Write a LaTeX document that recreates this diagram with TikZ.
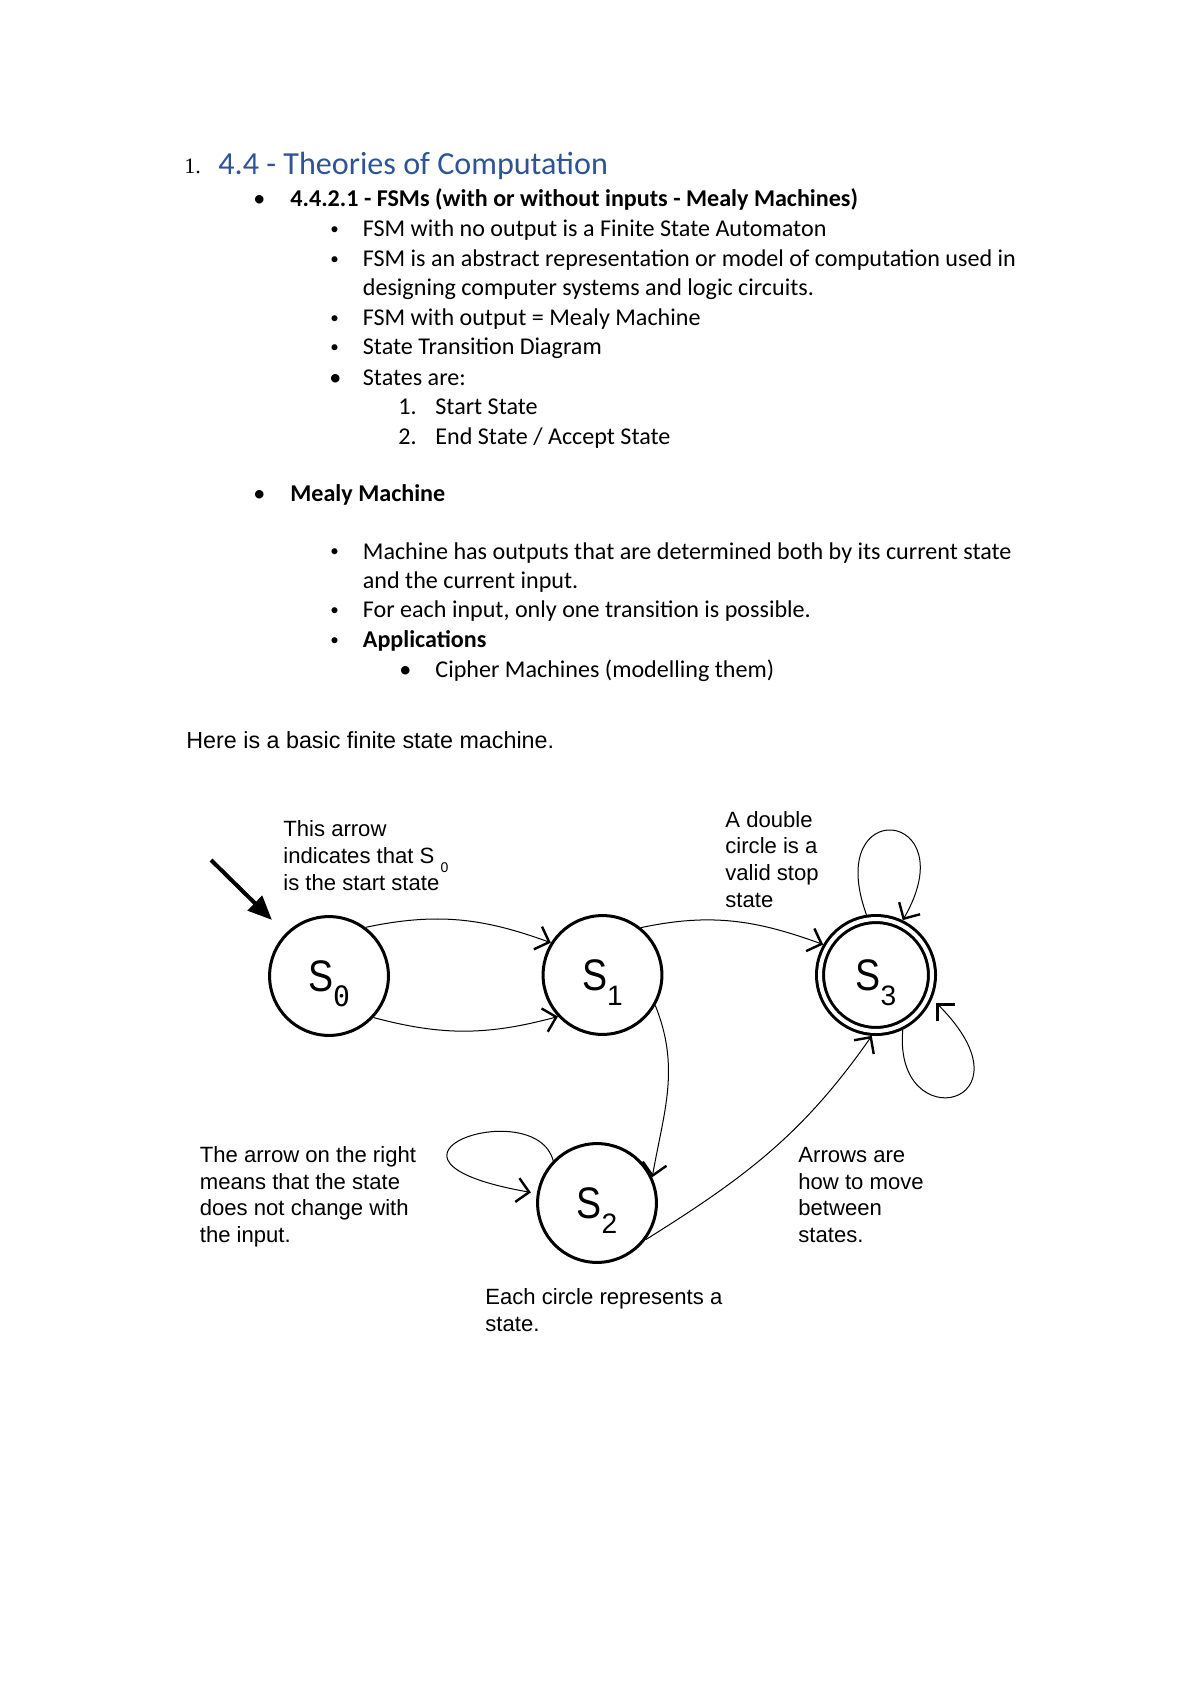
\documentclass[tikz,border=0pt]{standalone}
\usepackage{fontspec}
\usepackage{graphicx}
\setmainfont{Carlito}
\newfontfamily\diagfont{Liberation Sans}
\newfontfamily\listnumfont{Liberation Serif}
\newfontfamily\zerofont{DejaVu Sans Mono}
\usetikzlibrary{arrows.meta}
\definecolor{headblue}{HTML}{2F5496}
\newcommand{\stlabel}[1]{\scalebox{0.85}[1]{\fontsize{22}{22}\selectfont S}\raisebox{-7.5pt}[0pt][0pt]{\fontsize{14}{14}\selectfont #1}}

\begin{document}
\begin{tikzpicture}[x=0.0175cm,y=0.0175cm]
			\tikzstyle{every node}+=[inner sep=0pt]
			\tikzstyle{body}=[anchor=base west,font=\fontsize{12}{14.6}\selectfont]
			\tikzstyle{bulsmall}=[body,font=\fontsize{8.5}{8.5}\selectfont,yshift=1pt]
			\tikzstyle{diag}=[anchor=base west,align=left,font=\diagfont\fontsize{11}{13.2}\selectfont]
			\tikzstyle{stcircle}=[circle,draw=black,line width=1.5pt,minimum size=2.08cm,font=\diagfont]
			\tikzstyle{accept}=[stcircle,double,double distance=2pt,minimum size=1.96cm,outer sep=2.5pt]
			\tikzstyle{trans}=[line width=0.5pt,-{Straight Barb[length=6pt,width=12pt,line width=1.2pt]}]
			\tikzstyle{startarrow}=[line width=2pt,-{Triangle[length=12pt,width=10pt]},shorten >=9.5pt]
			\path [fill=white,use as bounding box] (0,0) rectangle (1200,-1696);
			% notes above the diagram
			\node [body,font=\listnumfont\fontsize{11}{13}\selectfont] (num) at (184,-174) {1.};
			\node [body,font=\fontsize{16}{19}\selectfont,text=headblue] (title) at (218,-175) {4.4 - Theories of Computation};
			\node [body] (bulfsm) at (253,-207) {•};
			\node [body] (fsms) at (290,-207) {\textbf{4.4.2.1 - FSMs (with or without inputs - Mealy Machines)}};
			\node [body] (nooutput) at (362.5,-237) {FSM with no output is a Finite State Automaton};
			\node [body] (abstract) at (362.5,-267) {FSM is an abstract representation or model of computation used in};
			\node [body] (designing) at (362.5,-296) {designing computer systems and logic circuits.};
			\node [body] (output) at (362.5,-325.5) {FSM with output = Mealy Machine};
			\node [body] (diagram) at (362.5,-355) {State Transition Diagram};
			\node [body] (bulstates) at (329,-385) {•};
			\node [body] (states) at (362.5,-385) {States are:};
			\node [body] (numstart) at (398,-414) {1.};
			\node [body] (startstate) at (435,-414) {Start State};
			\node [body] (numend) at (398,-444) {2.};
			\node [body] (endstate) at (435,-444) {End State / Accept State};
			\node [body] (bulmealy) at (253,-501) {•};
			\node [body] (mealy) at (290,-501) {\textbf{Mealy Machine}};
			\node [body] (outputs) at (362.5,-559) {Machine has outputs that are determined both by its current state};
			\node [body] (current) at (362.5,-588) {and the current input.};
			\node [body] (eachinput) at (362.5,-617.5) {For each input, only one transition is possible.};
			\node [body] (apps) at (362.5,-647.5) {\textbf{Applications}};
			\node [body] (bulcipher) at (399,-677.5) {•};
			\node [body] (cipher) at (435,-677.5) {Cipher Machines (modelling them)};
			\foreach \y [count=\i] in {237,267,325.5,355,559,617.5,647.5}
				\node [bulsmall] (bul\i) at (330,-\y) {•};
			\node [body,font=\diagfont\fontsize{11.6}{13}\selectfont] (intro) at (186,-748) {Here is a basic finite state machine.};
			% the machine
			\node [stcircle] (s0) at (329,-976) {\stlabel{\zerofont 0}};
			\node [stcircle] (s1) at (602.5,-975) {\stlabel{1}};
			\node [stcircle] (s2) at (597,-1203) {\stlabel{2}};
			\node [accept] (s3) at (876,-975) {\stlabel{3}};
			\coordinate (start) at (211,-860);
			\draw [startarrow] (start) -- (s0);
			\draw [trans] (s0.53) to[out=12,in=160] (s1.148);
			\draw [trans] (s0.-43) to[out=-15,in=195] (s1.-137);
			\draw [trans] (s1.51) to[out=12,in=160] (s3.150);
			\draw [trans] (s1.-30) to[out=-68,in=80] (s2.25);
			\draw [trans] (s2.-37) to[out=32,in=235] (s3.-94);
			\draw [trans,shorten >=3pt] (s2.136) to[out=105,in=170,out distance=1.225cm,in distance=3.5cm] (s2.171);
			\draw [trans] (s3.99) to[out=110,in=60,distance=2.25cm] (s3.64);
			\draw [trans,shorten >=3pt] (s3.-64) to[out=-95,in=-45,out distance=1.925cm,in distance=2.65cm] (s3.-23);
			% notes round the machine (placed by their last line)
			\node [diag] (startnote) at (283,-890) {This arrow\\indicates that S\ \raisebox{-4.5pt}[0pt][0pt]{\fontsize{7}{7}\selectfont 0}\\is the start state};
			\node [diag] (acceptnote) at (725,-907) {A double\\circle is a\\valid stop\\state};
			\node [diag] (loopnote) at (199.5,-1242) {The arrow on the right\\means that the state\\does not change with\\the input.};
			\node [diag] (arrownote) at (798,-1242) {Arrows are\\how to move\\between\\states.};
			\node [diag] (circlenote) at (485,-1331) {Each circle represents a\\state.};
\end{tikzpicture}
\end{document}
